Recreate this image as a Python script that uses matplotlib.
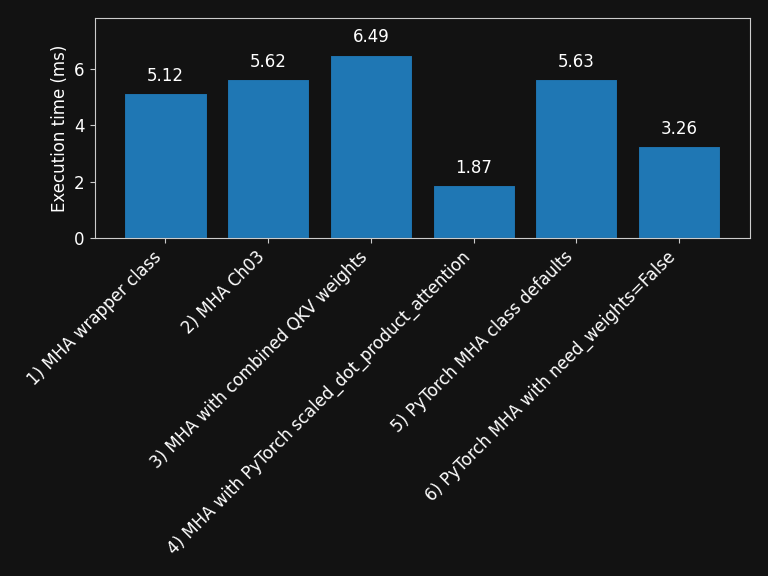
import matplotlib.pyplot as plt

labels = [
    "1) MHA wrapper class",
    "2) MHA Ch03",
    "3) MHA with combined QKV weights",
    "4) MHA with PyTorch scaled_dot_product_attention",
    "5) PyTorch MHA class defaults",
    "6) PyTorch MHA with need_weights=False",
]
times = [5.12, 5.62, 6.49, 1.87, 5.63, 3.26]

plt.style.use("dark_background")
bg = "#121212"
plt.rcParams["figure.facecolor"] = bg
plt.rcParams["axes.facecolor"] = bg
plt.rcParams["axes.edgecolor"] = "#cccccc"
plt.rcParams["xtick.color"] = "#cccccc"
plt.rcParams["ytick.color"] = "#cccccc"
plt.rcParams["xtick.labelcolor"] = "white"
plt.rcParams["ytick.labelcolor"] = "white"
plt.rcParams["font.size"] = 12

fig, ax = plt.subplots(figsize=(7.68, 5.76), dpi=100)
bars = ax.bar(labels, times, color="#1f77b4", edgecolor=bg, linewidth=0.8)
ax.set_ylabel("Execution time (ms)", color="white", fontsize=12)
ax.set_ylim(0, max(times) * 1.2)
plt.xticks(rotation=45, ha="right")

for b, t in zip(bars, times):
    ax.text(b.get_x() + b.get_width() / 2, b.get_height() + 0.3, f"{t:.2f}",
            ha="center", va="bottom", color="white", fontsize=12)

plt.tight_layout()
plt.savefig("out.png", dpi=100, facecolor=bg)
